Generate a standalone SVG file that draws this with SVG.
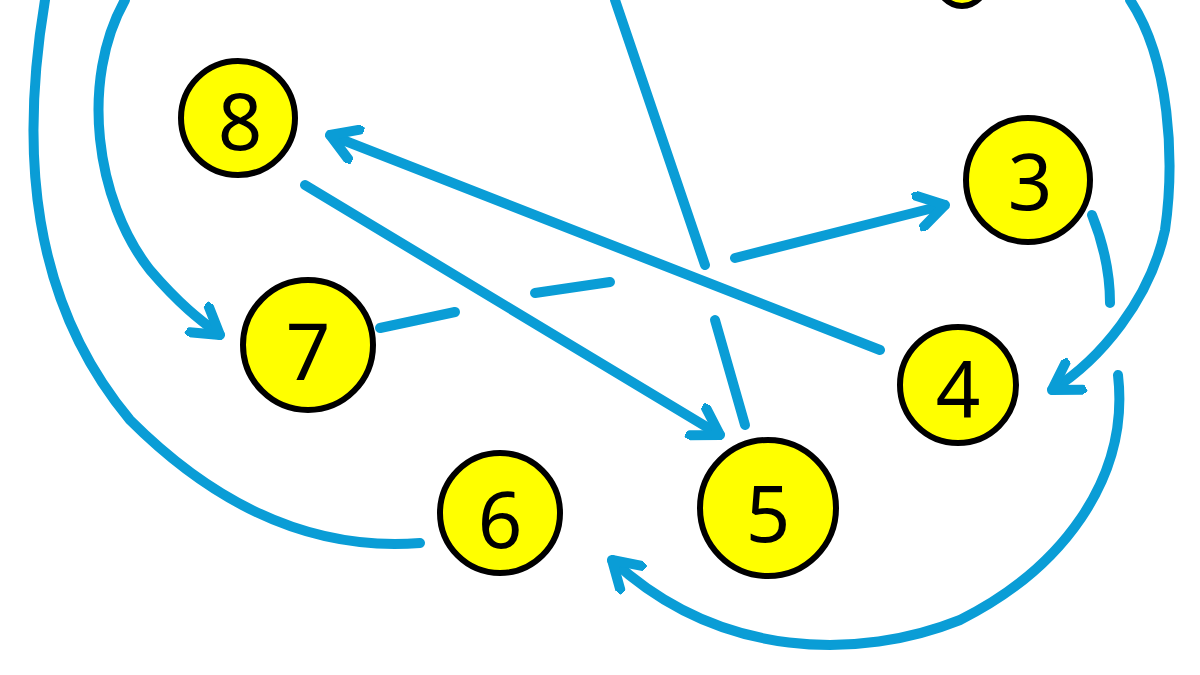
<svg xmlns="http://www.w3.org/2000/svg" width="1200" height="675" viewBox="0 0 1200 675">
<style>
.c{fill:none;stroke:#0a9dd6;stroke-width:10;stroke-linecap:round;stroke-linejoin:round}
.n circle{fill:#ffff00;stroke:#000;stroke-width:6}
.n text{font-family:"Noto Sans",sans-serif;font-size:78px;fill:#000;text-anchor:middle;dominant-baseline:central}
</style>
<defs>
<marker id="a" viewBox="-30 -20 34 40" markerWidth="34" markerHeight="40" refX="0" refY="0" orient="auto" markerUnits="userSpaceOnUse">
<path d="M-26,-16 L0,0 L-26,16" fill="none" stroke="#0a9dd6" stroke-width="10" stroke-linecap="round" stroke-linejoin="round"/>
</marker>
</defs>
<rect width="1200" height="675" fill="#fff"/>
<g id="connectors">
<path class="c" d="M45,0 C20,150 30,300 130,420 C230,520 330,550 420,543"/>
<path class="c" d="M125,0 C80,80 95,200 150,270 C180,305 200,320 220,335" marker-end="url(#a)"/>
<path class="c" d="M615,0 L705,265"/>
<path class="c" d="M715,320 L745,425"/>
<path class="c" d="M305,185 L720,435" marker-end="url(#a)"/>
<path class="c" d="M880,350 L330,135" marker-end="url(#a)"/>
<path class="c" d="M380,328 L455,312"/>
<path class="c" d="M535,293 L610,282"/>
<path class="c" d="M735,258 L945,205" marker-end="url(#a)"/>
<path class="c" d="M1092,215 C1102,240 1110,270 1110,303"/>
<path class="c" d="M1130,0 C1170,60 1175,160 1165,230 C1150,300 1100,360 1052,390" marker-end="url(#a)"/>
<path class="c" d="M1118,375 C1130,480 1060,570 960,620 C860,660 720,660 612,560" marker-end="url(#a)"/>
</g>
<g id="node-top" class="n"><circle cx="962" cy="-18" r="24"/></g>
<g id="node-8" class="n"><circle cx="238" cy="118" r="57"/><text x="240" y="120">8</text></g>
<g id="node-3" class="n"><circle cx="1028" cy="180" r="62"/><text x="1030" y="180">3</text></g>
<g id="node-7" class="n"><circle cx="308" cy="345" r="65"/><text x="308" y="350">7</text></g>
<g id="node-4" class="n"><circle cx="958" cy="385" r="58"/><text x="958" y="388">4</text></g>
<g id="node-6" class="n"><circle cx="500" cy="513" r="60"/><text x="500" y="518">6</text></g>
<g id="node-5" class="n"><circle cx="768" cy="508" r="68"/><text x="768" y="512">5</text></g>
</svg>
